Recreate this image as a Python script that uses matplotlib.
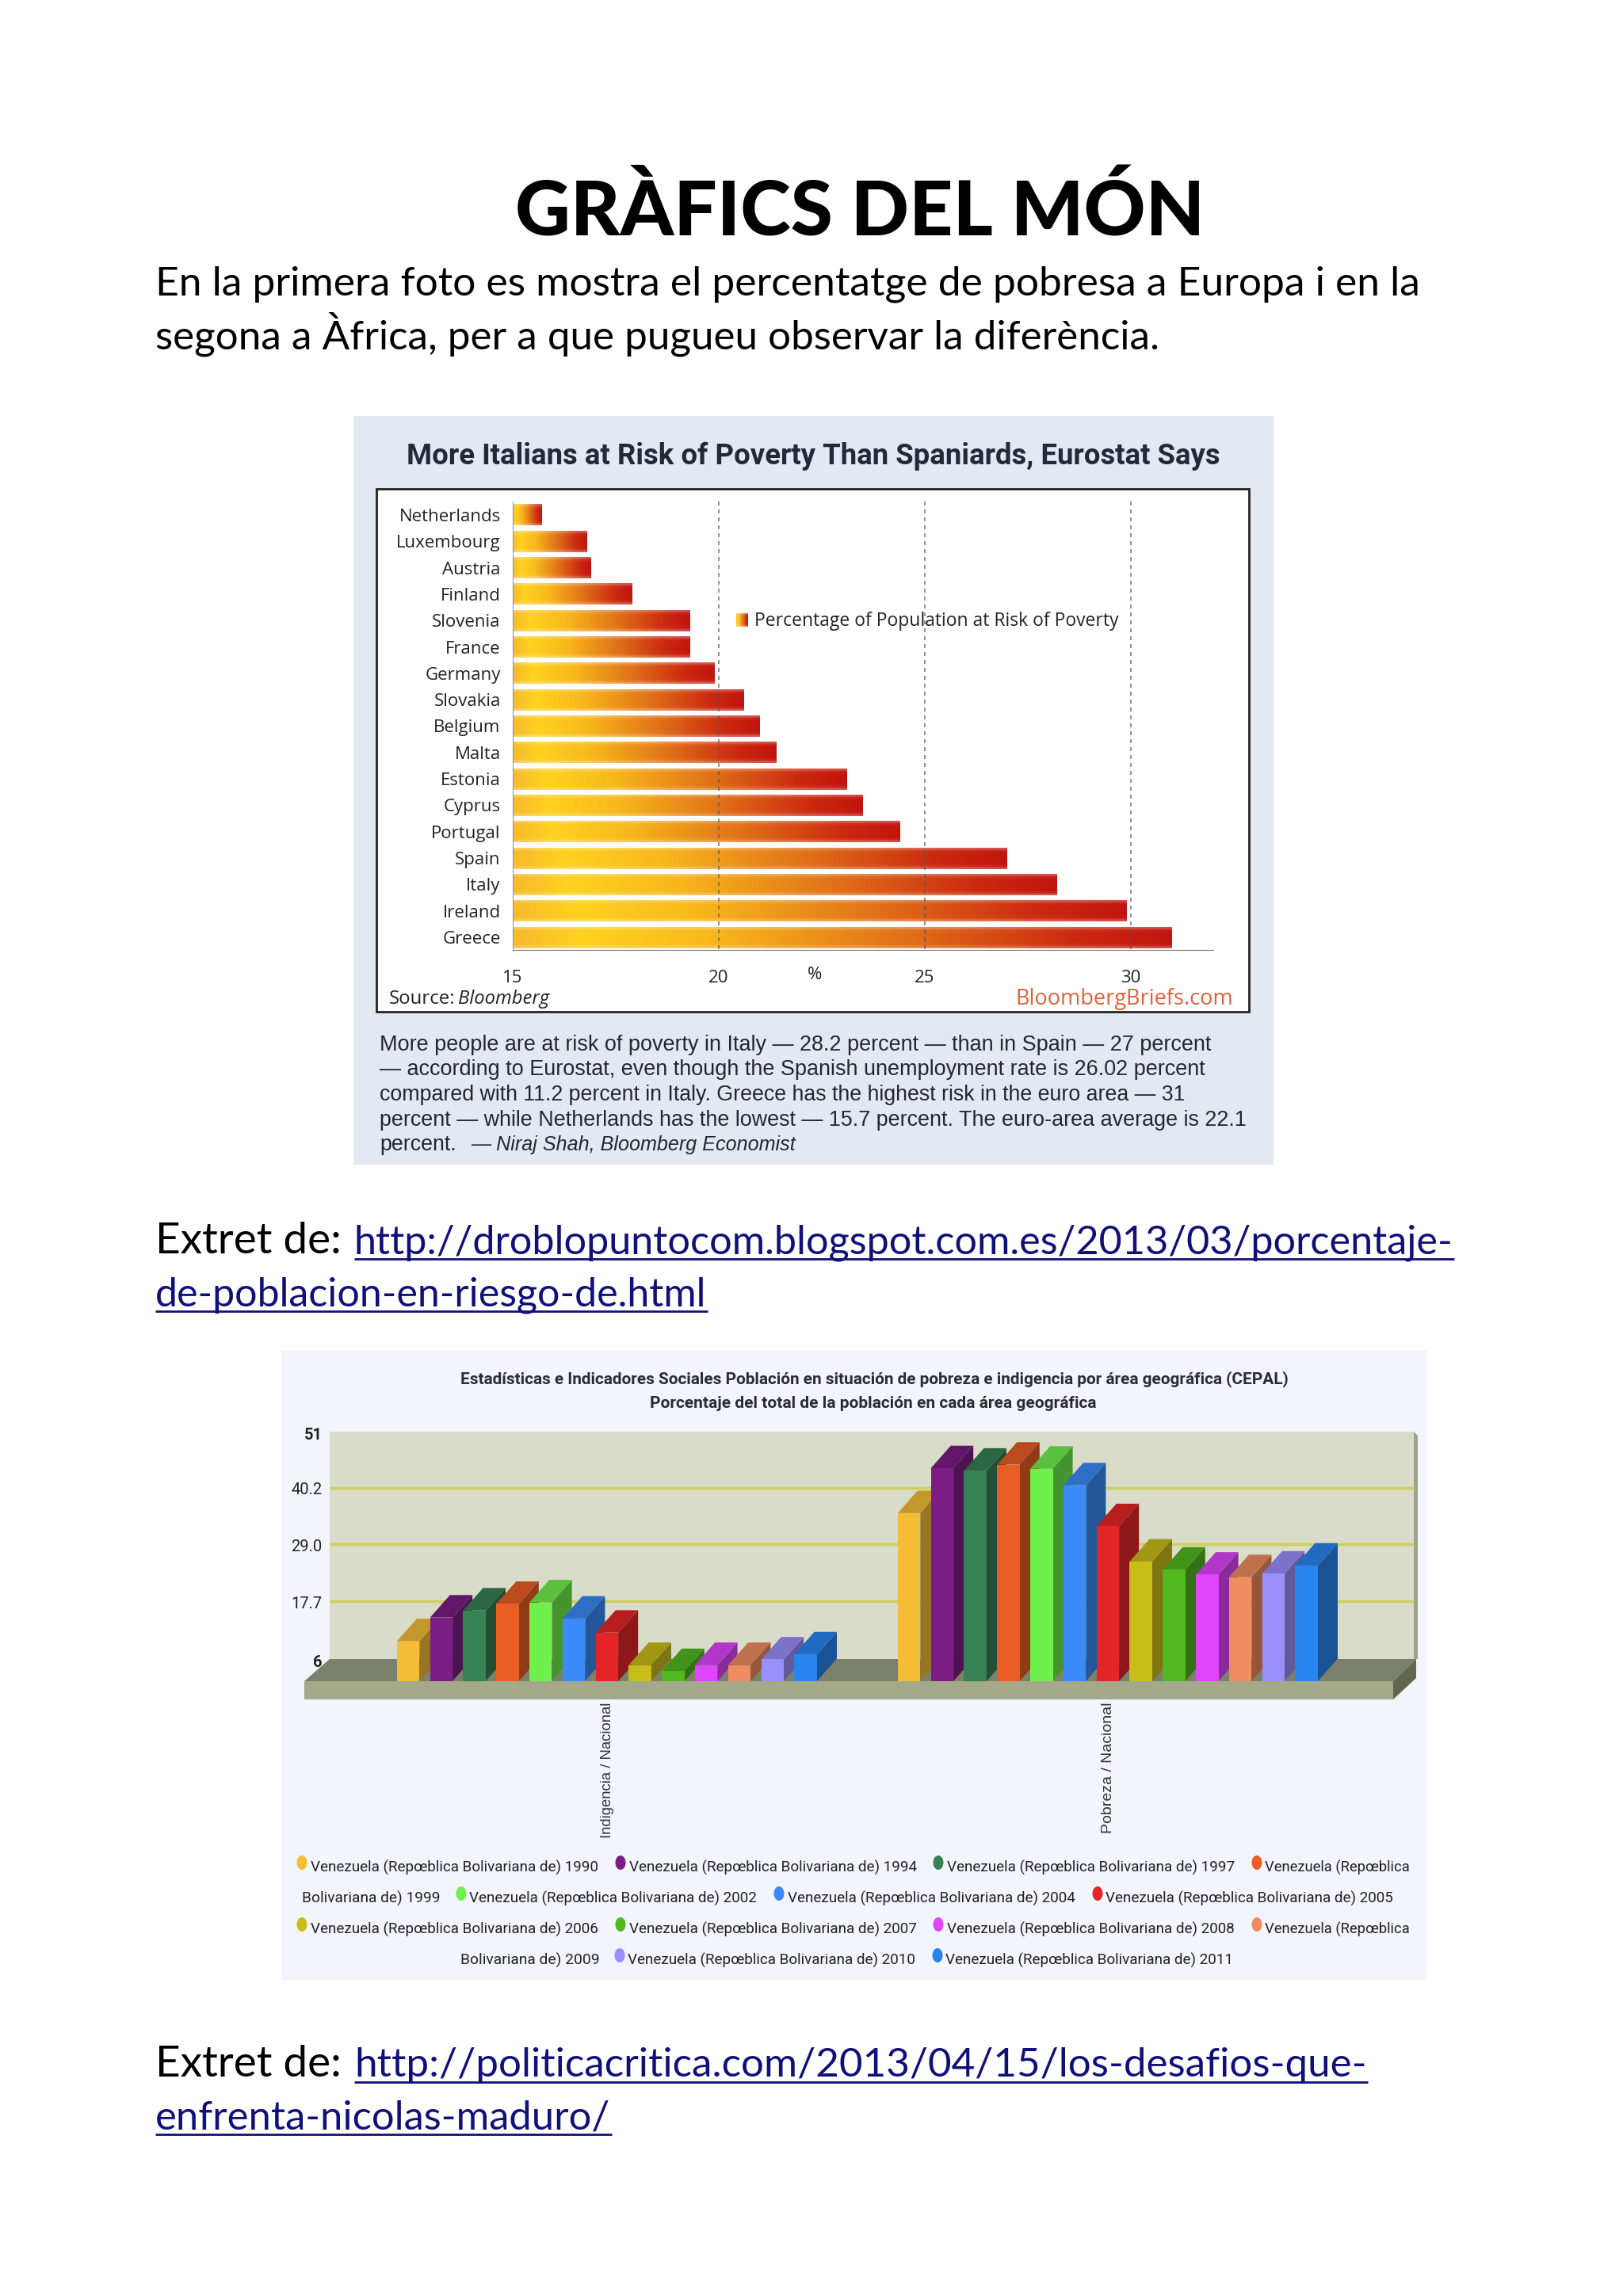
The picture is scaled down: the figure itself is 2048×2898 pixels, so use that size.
# imports
import matplotlib
matplotlib.use("Agg")
import matplotlib.pyplot as plt
import matplotlib.colors as mcolors
from matplotlib.patches import Polygon, Rectangle, Ellipse
import numpy as np

# data for the poverty chart
countries = ["Netherlands", "Luxembourg", "Austria", "Finland", "Slovenia", "France",
             "Germany", "Slovakia", "Belgium", "Malta", "Estonia", "Cyprus", "Portugal",
             "Spain", "Italy", "Ireland", "Greece"]
risk_values = [15.7, 16.8, 16.9, 17.9, 19.3, 19.3, 19.9, 20.6, 21.0, 21.4, 23.1, 23.5,
               24.4, 27.0, 28.2, 29.9, 31.0]
risk_ticks = [15, 20, 25, 30]

# data for the CEPAL chart
years = [1990, 1994, 1997, 1999, 2002, 2004, 2005, 2006, 2007, 2008, 2009, 2010, 2011]
indigencia = [13.9, 18.6, 20.0, 21.3, 21.6, 18.4, 15.6, 9.2, 8.0, 9.2, 9.2, 10.3, 11.3]
pobreza = [39.3, 48.2, 47.7, 48.9, 48.1, 44.8, 36.7, 29.7, 28.1, 27.1, 26.6, 27.3, 28.9]
year_colors = ["#f5bd35", "#7b1d84", "#378154", "#ea5d24", "#70f04c", "#3a8bf8", "#e32528",
               "#c9bd18", "#52b820", "#df45fb", "#ef8d60", "#9b8ffb", "#2885f0"]
value_ticks = [6, 17.7, 29.0, 40.2, 51]
value_labels = ["6", "17.7", "29.0", "40.2", "51"]

COMIC = ["Lato", "Liberation Sans"]
ARIAL = ["Liberation Sans", "DejaVu Sans"]
NARROW = ["Roboto", "Liberation Sans"]
HUMAN = ["Open Sans", "DejaVu Sans"]

fig = plt.figure(figsize=(20.48, 28.98), dpi=100, facecolor="white")

# page axes works in pixels of the final image
page = fig.add_axes([0, 0, 1, 1])
page.set_xlim(0, 2048)
page.set_ylim(2898, 0)
page.axis("off")


def fit(x0, x1, y, s, **kw):
    # put a text on the page and scale it so it runs from x0 to x1
    kw.setdefault("va", "baseline")
    t = page.text(x0, y, s, fontsize=20, **kw)
    w = t.get_window_extent(fig.canvas.get_renderer()).width
    t.set_fontsize(20 * (x1 - x0) / w)
    return t


def link(x0, x1, y, s):
    fit(x0, x1, y, s, color="#10107a", family=COMIC)
    page.plot([x0, x1], [y + 7, y + 7], color="#10107a", lw=2, solid_capstyle="butt")


# page text
fit(650, 1520, 297, "GRÀFICS DEL MÓN", family=COMIC, weight="black", color="black")
fit(196, 1795, 373, "En la primera foto es mostra el percentatge de pobresa a Europa i en la", family=COMIC)
fit(196, 1466, 440, "segona a Àfrica, per a que pugueu observar la diferència.", family=COMIC)

fit(196, 432, 1582, "Extret de:", family=COMIC)
link(447, 1835, 1582, "http://droblopuntocom.blogspot.com.es/2013/03/porcentaje-")
link(196, 893, 1648, "de-poblacion-en-riesgo-de.html")
fit(196, 432, 2621, "Extret de:", family=COMIC)
link(447, 1726, 2621, "http://politicacritica.com/2013/04/15/los-desafios-que-")
link(196, 772, 2687, "enfrenta-nicolas-maduro/")

# ---- poverty chart ----
page.add_patch(Rectangle((446, 525), 1161, 945, fc="#e3e9f2", ec="none"))
page.add_patch(Rectangle((475, 617), 1101, 660, fc="white", ec="#222222", lw=2))
fit(513, 1536, 586, "More Italians at Risk of Poverty Than Spaniards, Eurostat Says",
    family=NARROW, weight="bold", color="#222a35")

ax1 = fig.add_axes([647 / 2048, 1 - 1199 / 2898, 884 / 2048, 566 / 2898])
ax1.patch.set_alpha(0)
bar_cmap = mcolors.LinearSegmentedColormap.from_list(
    "risk", [(0, "#f7b92c"), (0.1, "#ffd21f"), (0.3, "#f8b81c"), (0.6, "#e06f18"),
             (0.85, "#cc2a10"), (1, "#c2140e")])
# gradient along the bar, a little paler on the top and bottom rows
grad = bar_cmap(np.linspace(0, 1, 256))[:, :3]
shade = np.array([0.25, 0.05, 0, 0, 0, 0, 0, 0, 0.05, 0.25]).reshape(-1, 1, 1)
grad = grad[np.newaxis, :, :] * (1 - shade) + shade

bars = ax1.barh(range(len(countries)), risk_values, left=0, height=0.81, color="none")
for bar, val in zip(bars, risk_values):
    y0 = bar.get_y()
    ax1.imshow(grad, aspect="auto", zorder=2, extent=[15, val, y0 + bar.get_height(), y0])
ax1.set_xlim(15, 32)
ax1.set_ylim(16.48, -0.51)
ax1.set_yticks(range(len(countries)))
ax1.set_yticklabels(countries, family=HUMAN, fontsize=16, color="#222222")
ax1.set_xticks(risk_ticks)
ax1.set_xticklabels(risk_ticks, family=HUMAN, fontsize=16, color="#222222")
ax1.tick_params(axis="y", length=0, pad=11)
ax1.tick_params(axis="x", length=0, pad=18)
for side in ["top", "right"]:
    ax1.spines[side].set_visible(False)
ax1.spines["left"].set_color("#999999")
ax1.spines["bottom"].set_color("#777777")
ax1.vlines(risk_ticks[1:], -0.51, 16.48, color="#555555", lw=1.2, ls=(0, (3, 3)), alpha=0.75, zorder=3)

page.text(1028, 1231, "%", family=HUMAN, fontsize=16, ha="center", va="center", color="#222222")
fit(491, 574, 1267, "Source:", family=HUMAN, color="#222222")
fit(578, 693, 1267, "Bloomberg", family=HUMAN, style="italic", color="#222222")
fit(1281, 1555, 1268, "BloombergBriefs.com", family=HUMAN, color="#e2603a")
page.imshow(grad, extent=[929, 944, 791, 774], aspect="auto", zorder=5)
page.set_xlim(0, 2048)
page.set_ylim(2898, 0)
fit(952, 1409, 790, "Percentage of Population at Risk of Poverty", family=HUMAN, color="#222222")

paragraph = [
    (479, 1528, 1326, "More people are at risk of poverty in Italy — 28.2 percent — than in Spain — 27 percent"),
    (479, 1518, 1357, "— according to Eurostat, even though the Spanish unemployment rate is 26.02 percent"),
    (479, 1496, 1389, "compared with 11.2 percent in Italy. Greece has the highest risk in the euro area — 31"),
    (479, 1569, 1421, "percent — while Netherlands has the lowest — 15.7 percent. The euro-area average is 22.1"),
    (479, 575, 1452, "percent."),
]
for x0, x1, y, s in paragraph:
    fit(x0, x1, y, s, family=ARIAL, color="#26262e")
fit(594, 1003, 1452, "— Niraj Shah, Bloomberg Economist", family=ARIAL, style="italic", color="#26262e")

# ---- CEPAL chart ----
page.add_patch(Rectangle((355, 1704), 1445, 795, fc="#f2f5fc", ec="none"))
fit(581, 1621, 1746, "Estadísticas e Indicadores Sociales Población en situación de pobreza e indigencia por área geográfica (CEPAL)",
    family=NARROW, weight="bold", color="#2b2b33")
fit(820, 1379, 1777, "Porcentaje del total de la población en cada área geográfica",
    family=NARROW, weight="bold", color="#2b2b33")

# back wall and floor of the fake 3d stage
page.add_patch(Polygon([(416, 1807), (1784, 1807), (1784, 2094), (416, 2094)], fc="#d8dcc8", ec="none"))
page.add_patch(Polygon([(1784, 1807), (1789, 1812), (1789, 2094), (1784, 2094)], fc="#a0a38c", ec="none"))
page.add_patch(Polygon([(416, 2094), (1787, 2094), (1758, 2122), (384, 2122)], fc="#7b806a", ec="none"))
page.add_patch(Rectangle((384, 2122), 1374, 23, fc="#a4a98a", ec="none"))
page.add_patch(Polygon([(1758, 2122), (1787, 2094), (1787, 2118), (1758, 2145)], fc="#62664f", ec="none"))

# slot units on x, percent on y
ax2 = fig.add_axes([355 / 2048, 1 - 2499 / 2898, 1445 / 2048, 795 / 2898])
ax2.axis("off")
ax2.patch.set_alpha(0)
ax2.set_xlim(-3.49, 31.08)
ax2.set_ylim(-53.2, 71.6)

bar_w = 0.68
depth_x = 0.6
depth_y = 4.45
base = 6
group_start = [0, 15.12]

ax2.hlines([v + depth_y - 0.3 for v in value_ticks[1:-1]], -2.03, 30.7, color="#cfcf60", lw=2.5, zorder=1)


def draw_group(start, values):
    for i, (val, col) in enumerate(zip(values, year_colors)):
        x = start + i
        rgb = np.array(mcolors.to_rgb(col))
        z = 2 + i
        ax2.bar(x, val - base, width=bar_w, bottom=base, align="edge", color=col, zorder=z + 0.2)
        ax2.add_patch(Polygon([(x + bar_w, base), (x + bar_w + depth_x, base + depth_y),
                               (x + bar_w + depth_x, val + depth_y), (x + bar_w, val)],
                              fc=rgb * 0.62, ec="none", zorder=z))
        ax2.add_patch(Polygon([(x, val), (x + depth_x, val + depth_y),
                               (x + bar_w + depth_x, val + depth_y), (x + bar_w, val)],
                              fc=rgb * 0.8, ec="none", zorder=z))


draw_group(group_start[0], indigencia)
draw_group(group_start[1], pobreza)

# axis labels, the tick values sit on the back wall
for v, lab in zip(value_ticks, value_labels):
    heavy = lab in ("6", "51")
    ax2.text(-2.25, v + depth_y - 0.8, lab, ha="right", va="center", family=NARROW, fontsize=14.5,
             weight="bold" if heavy else "normal", color="#222222")

ax2.text(group_start[0] + 6.35, 1.76, "Indigencia / Nacional", rotation=90, ha="center", va="top",
         family=ARIAL, fontsize=13.3, color="#333333")
ax2.text(group_start[1] + 6.35, 1.76, "Pobreza / Nacional", rotation=90, ha="center", va="top",
         family=ARIAL, fontsize=14, color="#333333")

# legend, wrapped the way the reference wraps it
venez = "Venezuela (Repœblica Bolivariana de) {}"
legend_rows = [
    (2363, [(381, 392, 756, 0), (783, 794, 1157, 1), (1184, 1195, 1558, 2)]),
    (2402, [(582, 592, 956, 4), (983, 994, 1357, 5), (1385, 1395, 1758, 6)]),
    (2441, [(381, 392, 756, 7), (783, 794, 1157, 8), (1184, 1195, 1558, 9)]),
    (2480, [(782, 792, 1155, 11), (1183, 1193, 1556, 12)]),
]
for y, items in legend_rows:
    for dot, x0, x1, idx in items:
        page.add_patch(Ellipse((dot, y - 12), 13, 18, fc=year_colors[idx], ec="none"))
        fit(x0, x1, y, venez.format(years[idx]), family=NARROW, color="#222222")

page.add_patch(Ellipse((1586, 2351), 13, 18, fc=year_colors[3], ec="none"))
fit(1596, 1778, 2363, "Venezuela (Repœblica", family=NARROW, color="#222222")
fit(381, 555, 2402, "Bolivariana de) {}".format(years[3]), family=NARROW, color="#222222")
page.add_patch(Ellipse((1586, 2429), 13, 18, fc=year_colors[10], ec="none"))
fit(1596, 1778, 2441, "Venezuela (Repœblica", family=NARROW, color="#222222")
fit(581, 756, 2480, "Bolivariana de) {}".format(years[10]), family=NARROW, color="#222222")

fig.savefig("out.png", dpi=100)
